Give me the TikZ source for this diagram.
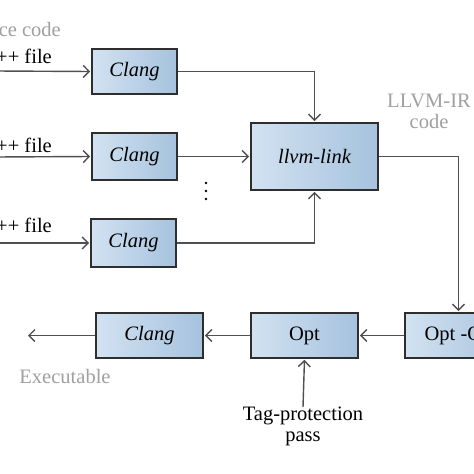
\documentclass[tikz,border=0pt]{standalone}
\usepackage{fontspec}
\setmainfont{Liberation Serif}
\usetikzlibrary{arrows.meta}
\definecolor{boxL}{HTML}{D2E2F1}
\definecolor{boxR}{HTML}{A6C2DE}
\definecolor{edge}{HTML}{2E2E2E}
\definecolor{wire}{HTML}{505050}
\definecolor{note}{HTML}{A0A0A0}
\tikzset{
  proc/.style={draw=edge, line width=1.6pt, left color=boxL, right color=boxR,
    inner sep=0pt, font=\fontsize{20.5}{22}\selectfont},
  arr/.style={draw=wire, line width=1.4pt, -{Straight Barb[length=6pt,width=12pt,line width=1.4pt]}, shorten >=1pt},
  txt/.style={font=\fontsize{20.5}{21}\selectfont, inner sep=0pt},
  grey/.style={txt, text=note}
}
\begin{document}
\begin{tikzpicture}[x=1pt,y=-1pt]
\useasboundingbox (0,0) rectangle (474,474);
\clip (0,0) rectangle (474,474);
\fill[white] (0,0) rectangle (474,474);
% boxes
\node[proc, minimum width=85pt, minimum height=45pt] (c1) at (134.5,71.5) {\itshape Clang};
\node[proc, minimum width=85pt, minimum height=47pt] (c2) at (134.5,156.5) {\itshape Clang};
\node[proc, minimum width=85pt, minimum height=48pt] (c3) at (133.5,243) {\itshape Clang};
\node[proc, minimum width=127pt, minimum height=67pt] (link) at (314.5,156.5) {\itshape llvm-link};
\node[proc, minimum width=107pt, minimum height=45pt] (optO) at (458.5,335.5) {Opt -O3};
\node[proc, minimum width=107pt, minimum height=45pt] (opt) at (304.5,335.5) {Opt};
\node[proc, minimum width=107pt, minimum height=45pt] (c4) at (149.5,335.5) {\itshape Clang};
% texts
\node[grey, anchor=base east] (src) at (61,36) {Source code};
\node[txt, anchor=base east] (f1) at (52,63) {C/C++ file};
\node[txt, anchor=base east] (f2) at (52,152) {C/C++ file};
\node[txt, anchor=base east] (f3) at (52,232) {C/C++ file};
\node[grey, align=center, anchor=base] (ir) at (429,128) {LLVM-IR\\code};
\node[grey, anchor=base] (exe) at (65,383) {Executable};
\node[txt, align=center, anchor=north, inner sep=0pt] (tag) at (303,407) {\rule{0pt}{9pt}Tag-protection\\pass};
% dots
\node[inner sep=0pt] (dots) at (206,191) {};
\fill[black] (206,183) circle (1.4) (206,191) circle (1.4) (206,199) circle (1.4);
% coordinates
\coordinate (in1) at (-5,71);
\coordinate (in2) at (-5,157);
\coordinate (in3) at (-5,243);
\coordinate (out) at (27,335.5);
% connectors
\draw[arr] (in1) -- (c1.west);
\draw[arr] (in2) -- (c2.west);
\draw[arr] (in3) -- (c3.west);
\draw[arr] (c1.east) -| (link.north);
\draw[arr] (c2.east) -- (link.west);
\draw[arr] (c3.east) -| (link.south);
\draw[arr] (link.east) -| (optO.north);
\draw[arr] (optO.west) -- (opt.east);
\draw[arr] (opt.west) -- (c4.east);
\draw[arr] (c4.west) -- (out);
\draw[arr] (tag.north) -- (opt.south);
\end{tikzpicture}
\end{document}
